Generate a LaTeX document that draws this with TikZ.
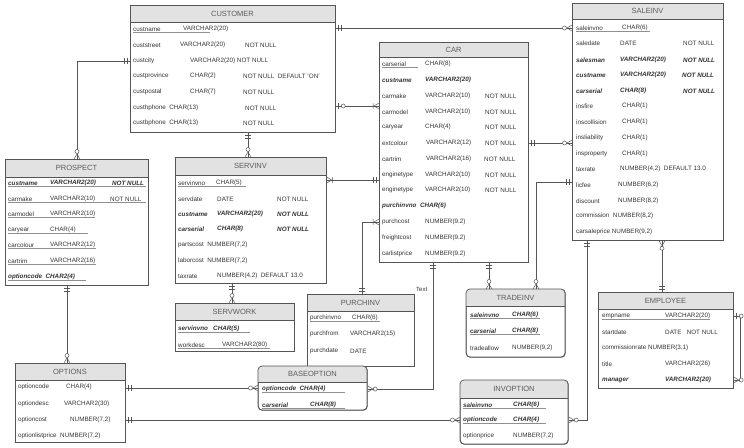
\documentclass[tikz,border=0pt]{standalone}
\usepackage{fontspec}
\setmainfont{Liberation Sans}
\usetikzlibrary{decorations.markings}
\definecolor{bd}{HTML}{555555}
\definecolor{hd}{HTML}{E2E2E2}
\definecolor{tx}{HTML}{333333}
\newcommand\tbl[7]{%
 \node[draw=bd,line width=0.7pt,rounded corners=#7,minimum width=#3pt-#1pt,minimum height=#4pt-#2pt,anchor=north west,inner sep=0] (#6) at (#1,#2) {};
 \begin{scope}
 \clip[rounded corners=#7] (#1,#2) rectangle (#3,#4);
 \fill[hd] (#1,#2) rectangle (#3,#5);
 \end{scope}
 \draw[bd,line width=0.7pt,rounded corners=#7] (#1,#2) rectangle (#3,#4);
 \draw[bd,line width=0.5pt] (#1,#5) -- (#3,#5);
 \node[ttl] at ({(#1+#3)/2},{(#2+#5)/2}) {\MakeUppercase{#6}};}
\newcommand\rt[3]{\node[rt] at (#1,#2) {#3};}
\newcommand\bi[3]{\node[rt,font=\fontsize{6.3}{7}\selectfont\bfseries\itshape] at (#1,#2) {#3};}
\newcommand\ul[3]{\draw[tx!55,line width=0.3pt] (#1,#2+3.5) -- (#3,#2+3.5);}
\tikzset{
 rt/.style={anchor=west,inner sep=0,text=tx,font=\fontsize{6.3}{7}\selectfont},
 ttl/.style={text=tx!80,font=\fontsize{7.5}{8}\selectfont},
 conn/.style={draw=bd,line width=0.6pt},
 sone/.style={postaction={decorate,decoration={markings,mark=at position 0 with {\draw[bd,line width=0.5pt] (3pt,-3pt)--(3pt,3pt) (6pt,-3pt)--(6pt,3pt);}}}},
 eone/.style={postaction={decorate,decoration={markings,mark=at position 1 with {\draw[bd,line width=0.5pt] (-3pt,-3pt)--(-3pt,3pt) (-6pt,-3pt)--(-6pt,3pt);}}}},
 szone/.style={postaction={decorate,decoration={markings,mark=at position 0 with {\draw[bd,line width=0.5pt] (3pt,-3pt)--(3pt,3pt); \draw[bd,fill=white,line width=0.5pt] (7.5pt,0) circle (2pt);}}}},
 ezmany/.style={postaction={decorate,decoration={markings,mark=at position 1 with {\draw[bd,line width=0.5pt] (-5pt,0)--(0,3pt) (-5pt,0)--(0,-3pt); \draw[bd,fill=white,line width=0.5pt] (-7.5pt,0) circle (2pt);}}}},
 szmany/.style={postaction={decorate,decoration={markings,mark=at position 0 with {\draw[bd,line width=0.5pt] (5pt,0)--(0,3pt) (5pt,0)--(0,-3pt); \draw[bd,fill=white,line width=0.5pt] (7.5pt,0) circle (2pt);}}}},
 eomany/.style={postaction={decorate,decoration={markings,mark=at position 1 with {\draw[bd,line width=0.5pt] (-5pt,0)--(0,3pt) (-5pt,0)--(0,-3pt) (-6pt,-3pt)--(-6pt,3pt);}}}},
 somany/.style={postaction={decorate,decoration={markings,mark=at position 0 with {\draw[bd,line width=0.5pt] (5pt,0)--(0,3pt) (5pt,0)--(0,-3pt) (6pt,-3pt)--(6pt,3pt);}}}},
}
\begin{document}
\begin{tikzpicture}[x=1pt,y=-1pt]
\useasboundingbox[fill=white] (0,0) rectangle (744,447);
% tables
\tbl{130}{5}{335}{132}{22}{Customer}{0pt}
\ul{133}{29}{210}
\rt{133}{29}{custname}\rt{183}{29}{VARCHAR2(20)}
\rt{133}{45}{custstreet}\rt{180}{45}{VARCHAR2(20)}\rt{245}{45}{NOT NULL}
\rt{133}{61}{custcity}\rt{190}{61}{VARCHAR2(20) NOT NULL}
\rt{133}{76}{custprovince}\rt{190}{76}{CHAR(2)}\rt{243}{76}{NOT NULL\ \ DEFAULT 'ON'}
\rt{133}{92}{custpostal}\rt{190}{92}{CHAR(7)}\rt{243}{92}{NOT NULL}
\rt{133}{108}{custhphone\ \ CHAR(13)}\rt{245}{108}{NOT NULL}
\rt{133}{123}{custbphone\ \ CHAR(13)}\rt{243}{123}{NOT NULL}

\tbl{379}{42}{528}{262}{57}{Car}{0pt}
\ul{382}{64}{418}
\rt{382}{64}{carserial}\rt{425}{64}{CHAR(8)}
\bi{382}{80}{custname}\bi{425}{80}{VARCHAR2(20)}
\rt{382}{96}{carmake}\rt{425}{96}{VARCHAR2(10)}\rt{485}{96}{NOT NULL}
\rt{382}{112}{carmodel}\rt{425}{112}{VARCHAR2(10)}\rt{485}{112}{NOT NULL}
\rt{382}{127}{caryear}\rt{425}{127}{CHAR(4)}\rt{485}{127}{NOT NULL}
\rt{382}{143}{extcolour}\rt{426}{143}{VARCHAR2(12)}\rt{485}{143}{NOT NULL}
\rt{382}{159}{cartrim}\rt{426}{159}{VARCHAR2(16)}\rt{484}{159}{NOT NULL}
\rt{382}{175}{enginetype}\rt{425}{175}{VARCHAR2(10)}\rt{485}{175}{NOT NULL}
\rt{382}{190}{enginetype}\rt{425}{190}{VARCHAR2(10)}\rt{485}{190}{NOT NULL}
\bi{382}{206}{purchinvno\ \ CHAR(6)}
\rt{382}{222}{purchcost}\rt{425}{222}{NUMBER(9.2)}
\rt{382}{238}{freightcost}\rt{425}{238}{NUMBER(9.2)}
\rt{382}{254}{carlistprice}\rt{425}{254}{NUMBER(9.2)}

\tbl{572}{3}{723}{240}{19}{Saleinv}{0pt}
\ul{576}{28}{650}
\rt{576}{28}{saleinvno}\rt{622}{28}{CHAR(6)}
\rt{576}{43}{saledate}\rt{620}{43}{DATE}\rt{683}{43}{NOT NULL}
\bi{576}{60}{salesman}\bi{620}{60}{VARCHAR2(20)}\bi{683}{60}{NOT NULL}
\bi{576}{75}{custname}\bi{620}{75}{VARCHAR2(20)}\bi{682}{75}{NOT NULL}
\bi{576}{91}{carserial}\bi{620}{91}{CHAR(8)}\bi{683}{91}{NOT NULL}
\rt{576}{106}{insfire}\rt{622}{106}{CHAR(1)}
\rt{576}{122}{inscollision}\rt{622}{122}{CHAR(1)}
\rt{576}{138}{insliability}\rt{622}{138}{CHAR(1)}
\rt{576}{154}{insproperty}\rt{622}{154}{CHAR(1)}
\rt{576}{169}{taxrate}\rt{620}{169}{NUMBER(4,2)\ \ DEFAULT 13.0}
\rt{576}{185}{licfee}\rt{618}{185}{NUMBER(6,2)}
\rt{576}{201}{discount}\rt{618}{201}{NUMBER(8,2)}
\rt{576}{216}{commission\ \ NUMBER(8,2)}
\rt{576}{232}{carsaleprice NUMBER(9,2)}

\tbl{5}{159}{148}{285}{177}{Prospect}{0pt}
\foreach \yy/\ee in {183/146,199/146,214/95,230/88,245/96,261/96,277/86}{\ul{8}{\yy}{\ee}}
\bi{8}{183}{custname}\bi{50}{183}{VARCHAR2(20)}\bi{112}{183}{NOT NULL}
\rt{8}{199}{carmake}\rt{50}{199}{VARCHAR2(10)}\rt{110}{199}{NOT NULL}
\rt{8}{214}{carmodel}\rt{50}{214}{VARCHAR2(10)}
\rt{8}{230}{caryear}\rt{50}{230}{CHAR(4)}
\rt{8}{245}{carcolour}\rt{50}{245}{VARCHAR2(12)}
\rt{8}{261}{cartrim}\rt{50}{261}{VARCHAR2(16)}
\bi{8}{277}{optioncode\ \ CHAR2(4)}

\tbl{175}{157}{326}{283}{175}{Servinv}{0pt}
\ul{178}{183}{246}
\rt{178}{183}{servinvno}\rt{216}{183}{CHAR(5)}
\rt{178}{199}{servdate}\rt{217}{199}{DATE}\rt{277}{199}{NOT NULL}
\bi{178}{214}{custname}\bi{217}{214}{VARCHAR2(20)}\bi{277}{214}{NOT NULL}
\bi{178}{229}{carserial}\bi{217}{229}{CHAR(8)}\bi{277}{229}{NOT NULL}
\rt{178}{245}{partscost\ \ NUMBER(7,2)}
\rt{178}{261}{laborcost\ \ NUMBER(7,2)}
\rt{178}{276}{taxrate}\rt{217}{276}{NUMBER(4,2)\ \ DEFAULT 13.0}

\tbl{175}{303}{294}{351}{320}{Servwork}{0pt}
\ul{178}{329}{250}\ul{178}{345}{270}
\bi{178}{329}{servinvno\ \ \ CHAR(5)}
\rt{178}{345}{workdesc}\rt{222}{345}{VARCHAR2(80)}

\tbl{307}{294}{414}{366}{311}{Purchinv}{0pt}
\ul{310}{318}{380}
\rt{310}{318}{purchinvno}\rt{352}{318}{CHAR(6)}
\rt{310}{334}{purchfrom}\rt{350}{334}{VARCHAR2(15)}
\rt{310}{351}{purchdate}\rt{350}{351}{DATE}

\tbl{466}{289}{565}{357}{306}{Tradeinv}{4pt}
\ul{470}{315}{540}\ul{470}{331}{540}
\bi{470}{315}{saleinvno}\bi{512}{315}{CHAR(6)}
\bi{470}{331}{carserial}\bi{512}{331}{CHAR(8)}
\rt{470}{348}{tradeallow}\rt{512}{348}{NUMBER(9,2)}

\tbl{598}{292}{733}{388}{309}{Employee}{0pt}
\ul{602}{316}{710}
\rt{602}{316}{empname}\rt{665}{316}{VARCHAR2(20)}
\rt{602}{332}{startdate}\rt{665}{332}{DATE\ \ \ NOT NULL}
\rt{602}{348}{commissionrate NUMBER(3,1)}
\rt{602}{364}{title}\rt{665}{364}{VARCHAR2(26)}
\bi{602}{380}{manager}\bi{665}{380}{VARCHAR2(20)}

\tbl{15}{363}{125}{442}{380}{Options}{0pt}
\rt{18}{387}{optioncode}\rt{66}{387}{CHAR(4)}
\rt{18}{404}{optiondesc}\rt{64}{404}{VARCHAR2(30)}
\rt{18}{420}{optioncost}\rt{70}{420}{NUMBER(7,2)}
\rt{18}{436}{optionlistprice\ \ NUMBER(7,2)}

\tbl{258}{366}{367}{410}{382}{Baseoption}{4pt}
\ul{262}{389}{345}\ul{262}{405}{345}
\bi{262}{389}{optioncode\ \ CHAR(4)}
\bi{262}{405}{carserial}\bi{310}{405}{CHAR(8)}

\tbl{460}{380}{568}{444}{398}{Invoption}{4pt}
\ul{463}{405}{546}\ul{463}{420}{546}
\bi{463}{405}{saleinvno}\bi{513}{405}{CHAR(6)}
\bi{463}{420}{optioncode}\bi{513}{420}{CHAR(4)}
\rt{463}{436}{optionprice}\rt{513}{436}{NUMBER(7,2)}

\node[rt,font=\fontsize{6}{7}\selectfont] (txt) at (416,289) {Text};

% connectors
\path[conn,sone,ezmany] (Customer.east |- 0,28) -- (Saleinv.west |- 0,28);
\path[conn,sone,ezmany] (Customer.west |- 0,61) -- (77,61) -- (Prospect.north -| 77,0);
\path[conn,szone,eomany] (Customer.east |- 0,106) -- (Car.west |- 0,106);
\path[conn,sone,ezmany] (Customer.south -| 248,0) -- (Servinv.north -| 248,0);
\path[conn,somany,eone] (Servinv.east |- 0,180) -- (Car.west |- 0,180);
\path[conn,somany,eone] (Car.west |- 0,222) -- (362,222) -- (Purchinv.north -| 362,0);
\path[conn,sone,ezmany] (Car.south -| 433,0) -- (433,389) -- (Baseoption.east |- 0,389);
\path[conn,sone,ezmany] (Car.south -| 489,0) -- (Tradeinv.north -| 489,0);
\path[conn,sone,ezmany] (Saleinv.west |- 0,182) -- (536,182) -- (Tradeinv.north -| 536,0);
\path[conn,sone,ezmany] (Saleinv.south -| 587,0) -- (587,420) -- (Invoption.east |- 0,420);
\path[conn,szmany,eone] (Saleinv.south -| 662,0) -- (Employee.north -| 662,0);
\path[conn,sone,ezmany] (Car.east |- 0,143) -- (Saleinv.west |- 0,143);
\path[conn,sone,ezmany] (Prospect.south -| 67,0) -- (Options.north -| 67,0);
\path[conn,sone,ezmany] (Servinv.south -| 232,0) -- (Servwork.north -| 232,0);
\path[conn,sone,ezmany] (Options.east |- 0,388) -- (Baseoption.west |- 0,388);
\path[conn,sone,ezmany] (Options.east |- 0,420) -- (Invoption.west |- 0,420);
\path[conn,szone,ezmany] (Employee.east |- 0,316) -- (740,316) -- (740,380) -- (Employee.east |- 0,380);
\end{tikzpicture}
\end{document}
